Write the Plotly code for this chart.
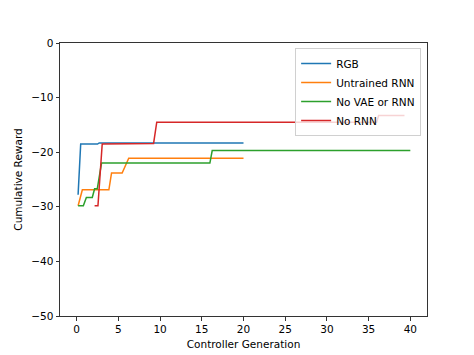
import plotly.graph_objects as go

rgb_x = [0.17, 0.48, 2.5, 2.7, 20.0]
rgb_y = [-27.8, -18.5, -18.5, -18.3, -18.3]

untrained_x = [0.17, 0.68, 3.86, 4.18, 5.45, 6.24, 20.0]
untrained_y = [-29.8, -26.9, -26.9, -23.8, -23.8, -21.1, -21.1]

novae_x = [0.17, 0.8, 1.16, 1.87, 2.15, 2.47, 2.98, 15.97, 16.25, 40.0]
novae_y = [-29.8, -29.8, -28.3, -28.3, -26.7, -26.7, -22.0, -22.0, -19.7, -19.7]

nornn_x = [2.15, 2.55, 3.06, 9.22, 9.6, 35.96, 36.2, 39.3]
nornn_y = [-29.8, -29.8, -18.5, -18.4, -14.5, -14.5, -13.3, -13.3]

names = ["RGB", "Untrained RNN", "No VAE or RNN", "No RNN"]
colors = ["#1f77b4", "#ff7f0e", "#2ca02c", "#d62728"]
series = [(rgb_x, rgb_y), (untrained_x, untrained_y), (novae_x, novae_y), (nornn_x, nornn_y)]

x_ticks = [0, 5, 10, 15, 20, 25, 30, 35, 40]
y_ticks = [0, -10, -20, -30, -40, -50]

fig = go.Figure()
for (xs, ys), n, c in zip(series, names, colors):
    fig.add_trace(go.Scatter(x=xs, y=ys, mode="lines", name=n,
                             line=dict(color=c, width=1.5)))

axis_common = dict(showline=True, linecolor="#333333", linewidth=1, mirror=True,
                   ticks="outside", ticklen=3.5, tickcolor="#333333", showgrid=False,
                   zeroline=False, tickfont=dict(size=10.5, color="black"))

fig.update_layout(
    width=474, height=355,
    margin=dict(l=52, r=55, t=35, b=47, autoexpand=False),
    paper_bgcolor="white", plot_bgcolor="white",
    font=dict(family="DejaVu Sans", size=10.5, color="black"),
    xaxis=dict(range=[-2, 42], tickvals=x_ticks,
               title=dict(text="Controller Generation", font=dict(size=10.5), standoff=6),
               **axis_common),
    yaxis=dict(range=[-50, 0], tickvals=y_ticks,
               title=dict(text="Cumulative Reward", font=dict(size=10.5), standoff=6),
               **axis_common),
    legend=dict(x=0.984, y=0.982, xanchor="right", yanchor="top",
                bgcolor="rgba(255,255,255,0.8)", bordercolor="#d0d0d0", borderwidth=1,
                font=dict(size=10.5), tracegroupgap=0, itemwidth=30),
    showlegend=True,
)

fig.write_html("out.html")
